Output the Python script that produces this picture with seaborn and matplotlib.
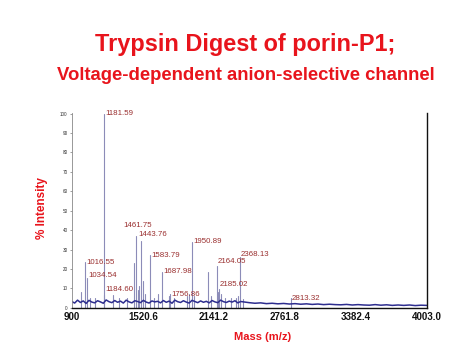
import matplotlib
matplotlib.use("Agg")
import matplotlib.pyplot as plt
import seaborn as sns
import pandas as pd

# ---------------- data ----------------
labeled_mass = [1016.55, 1034.54, 1181.59, 1184.60, 1443.76, 1461.75, 1583.79,
                1687.98, 1756.86, 1950.89, 2164.05, 2185.02, 2368.13, 2813.32]
labeled_height = [23.5, 15.5, 100, 6.5, 23, 37, 27, 18.5, 7, 34, 21.5, 9.5, 26, 4.8]

minor_mass = [978, 1060, 1105, 1264, 1310, 1380, 1478, 1490, 1504, 1522, 1535,
              1620, 1656, 1745, 1790, 1905, 1925, 1965, 2087, 2120, 2175, 2200,
              2240, 2290, 2330, 2355, 2395]
minor_height = [8, 5, 5, 6.5, 5, 5, 9, 11, 34.5, 14, 7,
                5, 7, 6, 5, 6, 7, 6, 18.5, 6, 8, 7,
                5, 5, 5, 6, 4.5]

baseline_mass = list(range(900, 2401, 25)) + list(range(2450, 4001, 50))
baseline_value = [3.2, 2.4, 3.9, 2.7, 3.5, 2.2, 3.8, 2.9, 2.5, 3.6,
                  3.0, 2.3, 4.0, 3.1, 2.6, 3.7, 2.8, 3.4, 2.4, 3.9,
                  3.0, 2.5, 3.6, 3.2, 2.6, 3.8, 2.9, 2.4, 3.5, 3.0,
                  3.3, 2.5, 3.7, 2.8, 3.4, 2.3, 3.9, 3.1, 2.7, 3.6,
                  2.9, 2.4, 3.8, 3.2, 2.6, 3.5, 2.8, 3.3, 2.5, 3.7,
                  3.0, 2.6, 3.9, 3.1, 2.7, 3.4, 2.9, 3.6, 2.5, 3.2,
                  3.0,
                  2.6, 2.3, 2.5, 2.1, 2.3, 2.0, 2.2, 1.9, 2.1, 1.8,
                  2.0, 1.7, 1.9, 1.6, 1.8, 1.6, 1.5, 1.7, 1.4, 1.6,
                  1.4, 1.3, 1.6, 1.3, 1.5, 1.2, 1.4, 1.2, 1.4, 1.1,
                  1.3, 1.2]

x_ticks = [900, 1520.6, 2141.2, 2761.8, 3382.4, 4003.0]
x_tick_labels = ["900", "1520.6", "2141.2", "2761.8", "3382.4", "4003.0"]
y_ticks = [0, 10, 20, 30, 40, 50, 60, 70, 80, 90, 100]

title = "Trypsin Digest of porin-P1;"
subtitle = "Voltage-dependent anion-selective channel"

# label nudges in pixels (dx, dy) for crowded labels
label_nudge = {1034.54: (1, 2), 1184.60: (1, 6), 1443.76: (4, 29), 1461.75: (-13, 10),
               2164.05: (1, 4), 2185.02: (1, 5), 2368.13: (1, 3)}

# ---------------- build tables ----------------
all_mass = labeled_mass + minor_mass
all_height = labeled_height + minor_height
rows = []
for i, (m, h) in enumerate(zip(all_mass, all_height)):
    rows.append({"mass": m, "y": 0.0, "pid": i})
    rows.append({"mass": m, "y": h, "pid": i})
sticks = pd.DataFrame(rows)
base = pd.DataFrame({"mass": baseline_mass, "y": baseline_value})

# ---------------- figure ----------------
sns.set_style("white")
plt.rcParams["font.family"] = ["Liberation Sans", "DejaVu Sans"]

fig = plt.figure(figsize=(4.74, 3.55), dpi=100)
ax = fig.add_axes([0.1515, 0.1332, 0.7494, 0.5493])

sns.lineplot(data=sticks, x="mass", y="y", units="pid", estimator=None,
             color="#8c8cb8", lw=0.8, ax=ax, legend=False)
sns.lineplot(data=base, x="mass", y="y", estimator=None, color="#2e2e8f",
             lw=1.1, ax=ax, legend=False)

for m, h in zip(labeled_mass, labeled_height):
    dx, dy = label_nudge.get(m, (1, 0))
    ax.annotate(f"{m:.2f}", xy=(m, h), xytext=(dx * 0.72, dy * 0.72),
                textcoords="offset points", ha="left", va="center",
                fontsize=5.7, color="#9a2f2f")

ax.set_xlim(900, 4003)
ax.set_ylim(0, 100.5)
ax.set_xticks(x_ticks)
ax.set_xticklabels(x_tick_labels, fontsize=7, fontweight="bold", color="#111111")
ax.set_yticks(y_ticks)
ax.set_yticklabels([str(v) for v in y_ticks], fontsize=3.3, color="#333333")
ax.tick_params(axis="y", length=1.5, width=0.5, pad=1.5, left=True, color="#777777")
ax.tick_params(axis="x", length=0, pad=3)

ax.spines["top"].set_visible(False)
ax.spines["left"].set_color("#888888")
ax.spines["left"].set_linewidth(0.6)
ax.spines["bottom"].set_color("#111111")
ax.spines["bottom"].set_linewidth(1.0)
ax.spines["right"].set_color("#111111")
ax.spines["right"].set_linewidth(1.0)

ax.set_xlabel("Mass (m/z)", fontsize=8, fontweight="bold", color="#e8141c")
ax.set_ylabel("% Intensity", fontsize=8.5, fontweight="bold", color="#e8141c")
ax.xaxis.set_label_coords((263 - 71.8) / (427 - 71.8), -(331.5 - 307.7) / 195.0)
ax.yaxis.set_label_coords(-(71.8 - 48) / (427 - 71.8), (307.7 - 208) / 195.0)

fig.text(245 / 474, 1 - 44 / 355, title, ha="center", va="center", fontsize=16.9,
         fontweight="bold", color="#e8141c")
fig.text(246 / 474, 1 - 75 / 355, subtitle, ha="center", va="center", fontsize=13.3,
         fontweight="bold", color="#e8141c")

fig.savefig("out.png", dpi=100)
